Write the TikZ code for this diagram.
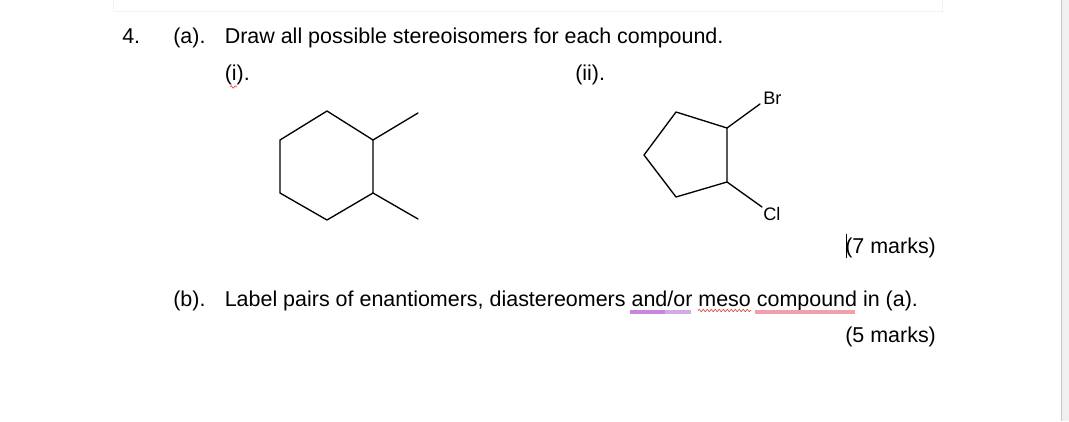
\documentclass[tikz,border=0pt]{standalone}
\usepackage{fontspec}
\setmainfont{Liberation Sans}
\usepackage{xcolor}
\usetikzlibrary{decorations.pathmorphing}
\definecolor{edgegray}{HTML}{F3F3F3}
\definecolor{barfill}{HTML}{F0F0F0}
\definecolor{barline}{HTML}{C8C8C8}
\definecolor{markpurple}{HTML}{C887DC}
\definecolor{markpurplelight}{HTML}{D2AAE8}
\definecolor{markpink}{HTML}{F29FAC}
\definecolor{spellred}{HTML}{D9453F}

\begin{document}
\begin{tikzpicture}[x=0.75pt, y=-0.75pt,
  txt/.style = {anchor=base west, inner sep=0pt, font=\fontsize{16.1}{18}\selectfont},
  atom/.style = {anchor=base west, inner sep=0pt, font=\fontsize{13.6}{15}\selectfont},
  bond/.style = {line width=1pt, line join=round, line cap=round},
  squiggle/.style = {draw=spellred, line width=0.5pt, decorate, decoration={snake, amplitude=0.9pt, segment length=3pt}}]
\useasboundingbox (0,0) rectangle (1069,421);
% page edges and scroll bar
\fill[barfill] (1061,0) rectangle (1069,421);
\draw[barline, line width=1pt] (1061.5,0) -- (1061.5,421);
\draw[edgegray, line width=0.75pt] (113,0) -- (113,11.5) -- (942,11.5);
\draw[edgegray, line width=0.75pt] (942,0) -- (942,13);
% text
\node[txt] (num) at (122,43) {4.};
\node[txt] (a) at (173,43) {(a).};
\node[txt] (atext) at (224.5,43) {Draw all possible stereoisomers for each compound.};
\node[txt] (i) at (224.5,80) {(i).};
\node[txt] (ii) at (575,80) {(ii).};
\node[txt] (marks7) at (845,253) {(7 marks)};
\node[txt] (b) at (173,306) {(b).};
\node[txt] (btext) at (224.5,306) {Label pairs of enantiomers, diastereomers and/or meso compound in (a).};
\node[txt] (marks5) at (845,342) {(5 marks)};
\node[atom] (br) at (763,104) {Br};
\node[atom] (cl) at (763,220) {Cl};
% hexagon
\coordinate (h0) at (327,111);
\coordinate (h1) at (373,140);
\coordinate (h2) at (373,193);
\coordinate (h3) at (327,220);
\coordinate (h4) at (280,193);
\coordinate (h5) at (280,140);
\coordinate (me1) at (418,113);
\coordinate (me2) at (418,219);
\draw[bond] (h0) -- (h1) -- (h2) -- (h3) -- (h4) -- (h5) -- cycle;
\draw[bond] (h1) -- (me1);
\draw[bond] (h2) -- (me2);
% pentagon
\coordinate (p0) at (676,112);
\coordinate (p1) at (727,128);
\coordinate (p2) at (727,182);
\coordinate (p3) at (676,197);
\coordinate (p4) at (644,155);
\coordinate (brend) at (760,104);
\coordinate (clend) at (762,207);
\draw[bond] (p0) -- (p1) -- (p2) -- (p3) -- (p4) -- cycle;
\draw[bond] (p1) -- (brend);
\draw[bond] (p2) -- (clend);
% cursor
\coordinate (cur0) at (846,234);
\coordinate (cur1) at (846,258);
\draw[black, line width=0.75pt] (cur0) -- (cur1);
% proofing marks
\coordinate (u0) at (630,312);
\coordinate (u1) at (665,312);
\coordinate (u2) at (691,312);
\coordinate (u3) at (755,312);
\coordinate (u4) at (855,312);
\coordinate (s0) at (698,310.5);
\coordinate (s1) at (751,310.5);
\coordinate (s2) at (230,87);
\coordinate (s3) at (237,87);
\draw[markpurple, line width=3pt] (u0) -- (u1);
\draw[markpurplelight, line width=3pt] (u1) -- (u2);
\draw[markpink, line width=3pt] (u3) -- (u4);
\draw[squiggle] (s0) -- (s1);
\draw[squiggle] (s2) -- (s3);
\end{tikzpicture}
\end{document}
